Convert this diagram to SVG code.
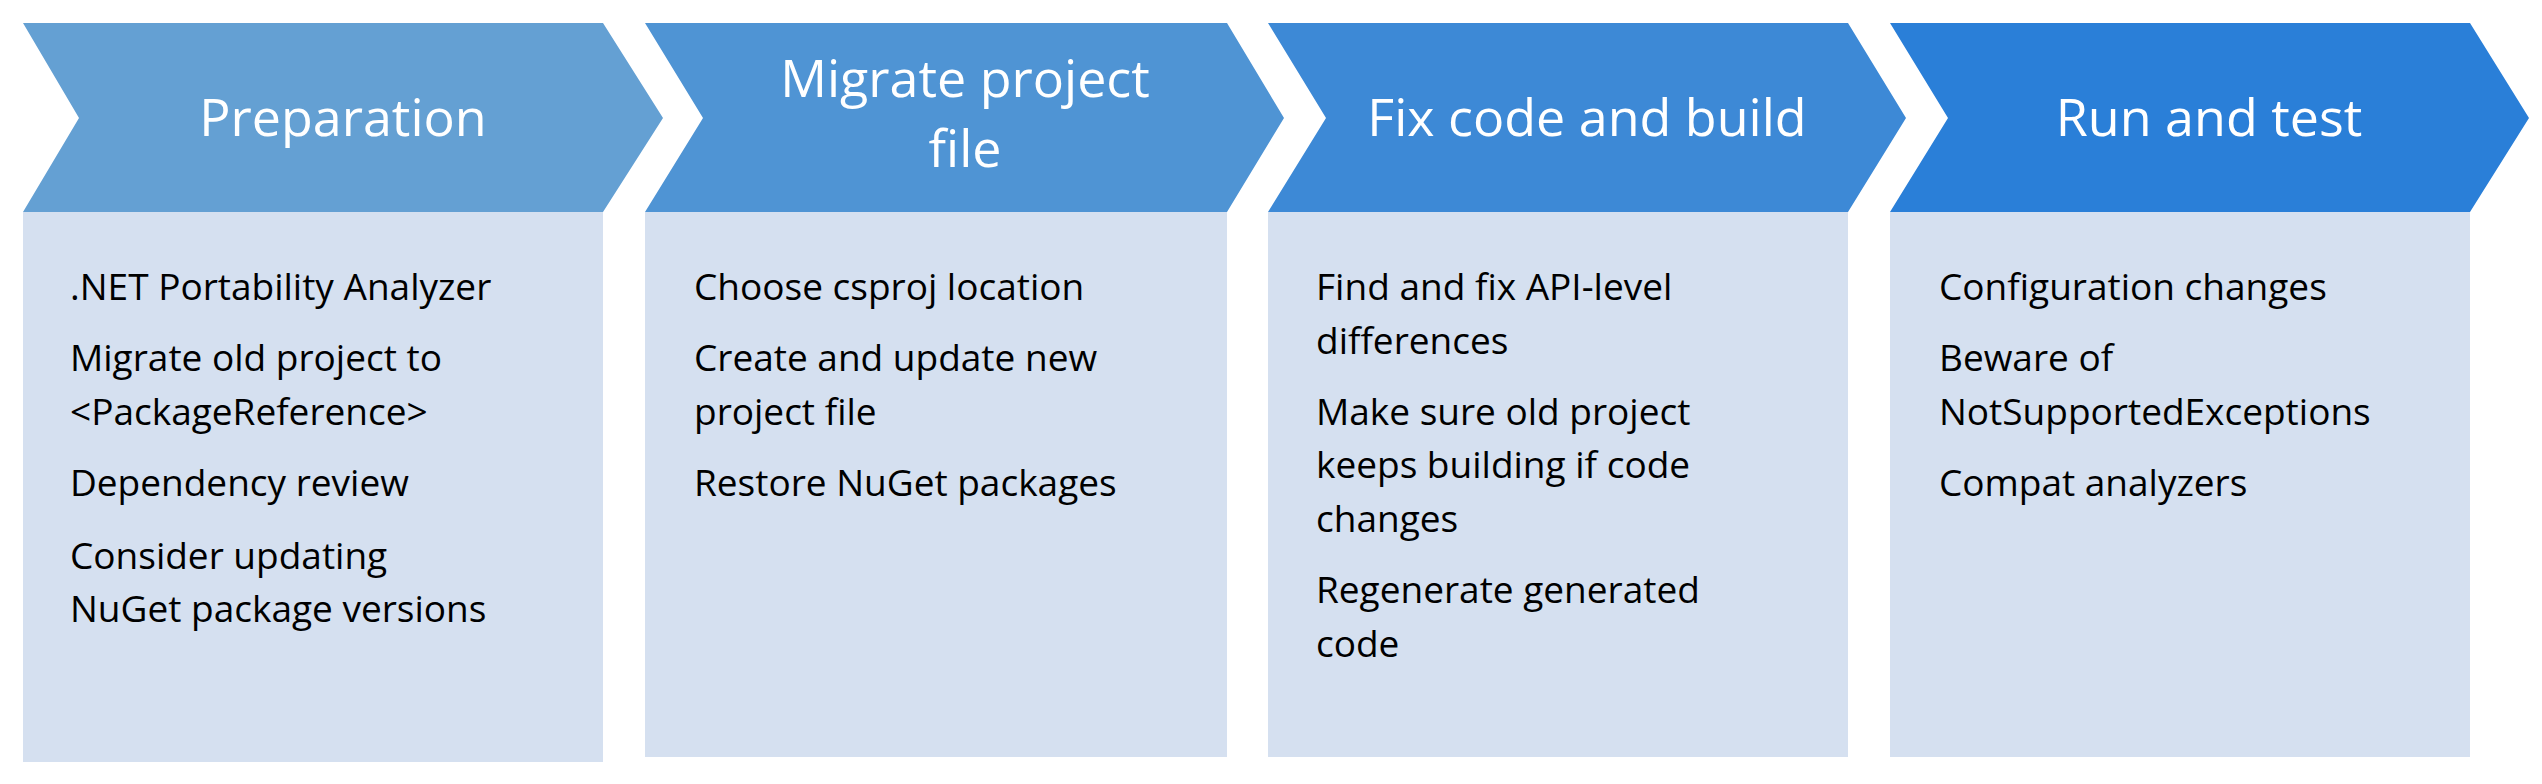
<svg xmlns="http://www.w3.org/2000/svg" width="2542" height="784" viewBox="0 0 2542 784">
<style>
.h{font-family:"Open Sans","Liberation Sans",sans-serif;font-size:52px;fill:#fff;text-anchor:middle}
.b{font-family:"Open Sans","Liberation Sans",sans-serif;font-size:37px;fill:#000}
.body{fill:#D5E0F0}
</style>
<rect width="2542" height="784" fill="#fff"/>
<g id="prep">
<rect class="body" x="23" y="212" width="580" height="550"/>
<polygon fill="#64A0D3" points="23,23 603,23 663,118 603,212 23,212 79,118"/>
<text class="h" x="343" y="136">Preparation</text>
<text class="b" x="70" y="300">.NET Portability Analyzer</text>
<text class="b" x="70" y="371">Migrate old project to</text>
<text class="b" x="70" y="425">&lt;PackageReference&gt;</text>
<text class="b" x="70" y="496">Dependency review</text>
<text class="b" x="70" y="569">Consider updating</text>
<text class="b" x="70" y="622">NuGet package versions</text>
</g>
<g id="migrate">
<rect class="body" x="645" y="212" width="582" height="545"/>
<polygon fill="#4F94D4" points="645,23 1227,23 1284,118 1227,212 645,212 703,118"/>
<text class="h" x="965" y="97">Migrate project</text>
<text class="h" x="965" y="167">file</text>
<text class="b" x="694" y="300">Choose csproj location</text>
<text class="b" x="694" y="371">Create and update new</text>
<text class="b" x="694" y="425">project file</text>
<text class="b" x="694" y="496">Restore NuGet packages</text>
</g>
<g id="fix">
<rect class="body" x="1268" y="212" width="580" height="545"/>
<polygon fill="#3D89D6" points="1268,23 1848,23 1906,118 1848,212 1268,212 1326,118"/>
<text class="h" x="1587" y="136">Fix code and build</text>
<text class="b" x="1316" y="300">Find and fix API-level</text>
<text class="b" x="1316" y="354">differences</text>
<text class="b" x="1316" y="425">Make sure old project</text>
<text class="b" x="1316" y="478">keeps building if code</text>
<text class="b" x="1316" y="532">changes</text>
<text class="b" x="1316" y="603">Regenerate generated</text>
<text class="b" x="1316" y="657">code</text>
</g>
<g id="run">
<rect class="body" x="1890" y="212" width="580" height="545"/>
<polygon fill="#2A7FD8" points="1890,23 2470,23 2529,118 2470,212 1890,212 1948,118"/>
<text class="h" x="2209" y="136">Run and test</text>
<text class="b" x="1939" y="300">Configuration changes</text>
<text class="b" x="1939" y="371">Beware of</text>
<text class="b" x="1939" y="425">NotSupportedExceptions</text>
<text class="b" x="1939" y="496">Compat analyzers</text>
</g>
<g id="connectors"/>
</svg>
